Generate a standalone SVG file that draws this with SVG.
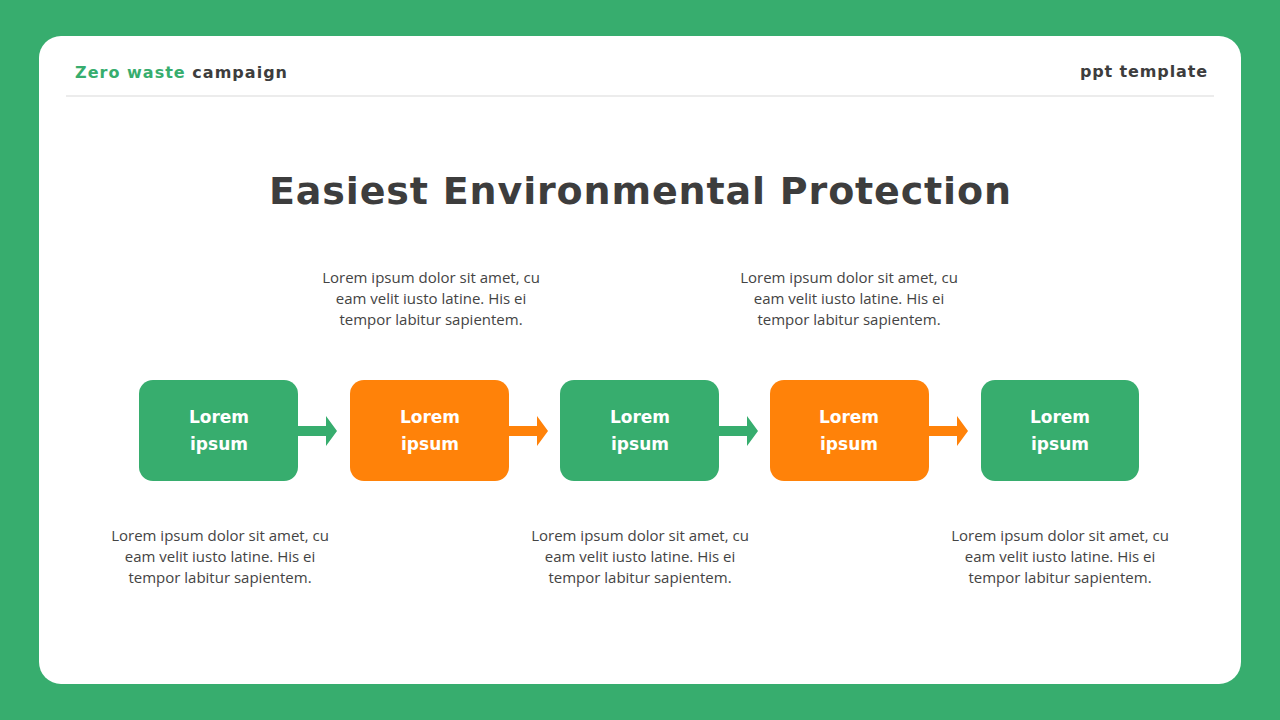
<svg xmlns="http://www.w3.org/2000/svg" width="1280" height="720" viewBox="0 0 1280 720">
<defs><style>
.d{font-family:"Open Sans","Liberation Sans",sans-serif;font-size:15px;fill:#444;text-anchor:middle}
.b{font-family:"DejaVu Sans","Liberation Sans",sans-serif;font-weight:bold;font-size:17px;fill:#fff;text-anchor:middle}
.g{fill:#37AD6E}.o{fill:#FF8209}
</style></defs>
<rect width="1280" height="720" fill="#37AD6E"/>
<rect x="39" y="36" width="1202" height="648" rx="22" fill="#fff"/>
<line x1="66" y1="96" x2="1214" y2="96" stroke="#d9d9d9"/>
<text x="75" y="78" font-family="DejaVu Sans,sans-serif" font-weight="bold" font-size="16" textLength="212"><tspan fill="#37AD6E">Zero waste</tspan><tspan fill="#3d3d3d">  campaign</tspan></text>
<text x="1207" y="77" text-anchor="end" font-family="DejaVu Sans,sans-serif" font-weight="bold" font-size="16" fill="#3d3d3d" textLength="127">ppt template</text>
<text x="640" y="204" text-anchor="middle" font-family="DejaVu Sans,sans-serif" font-weight="bold" font-size="38" fill="#3d3d3d" textLength="742">Easiest Environmental Protection</text>
<g id="connectors">
<path class="g" d="M298 426h28v-10l11 15-11 15v-10h-28z"/>
<path class="o" d="M509 426h28v-10l11 15-11 15v-10h-28z"/>
<path class="g" d="M719 426h28v-10l11 15-11 15v-10h-28z"/>
<path class="o" d="M929 426h28v-10l11 15-11 15v-10h-28z"/>
</g>
<g id="n1"><rect class="g" x="139" y="380" width="159" height="101" rx="14"/><text class="b" x="219" y="423">Lorem</text><text class="b" x="219" y="450">ipsum</text></g>
<g id="n2"><rect class="o" x="350" y="380" width="159" height="101" rx="14"/><text class="b" x="430" y="423">Lorem</text><text class="b" x="430" y="450">ipsum</text></g>
<g id="n3"><rect class="g" x="560" y="380" width="159" height="101" rx="14"/><text class="b" x="640" y="423">Lorem</text><text class="b" x="640" y="450">ipsum</text></g>
<g id="n4"><rect class="o" x="770" y="380" width="159" height="101" rx="14"/><text class="b" x="849" y="423">Lorem</text><text class="b" x="849" y="450">ipsum</text></g>
<g id="n5"><rect class="g" x="981" y="380" width="158" height="101" rx="14"/><text class="b" x="1060" y="423">Lorem</text><text class="b" x="1060" y="450">ipsum</text></g>
<g id="t2"><text class="d" x="431" y="283">Lorem ipsum dolor sit amet, cu</text><text class="d" x="431" y="304">eam velit iusto latine.  His ei</text><text class="d" x="431" y="325">tempor labitur sapientem.</text></g>
<g id="t4"><text class="d" x="849" y="283">Lorem ipsum dolor sit amet, cu</text><text class="d" x="849" y="304">eam velit iusto latine.  His ei</text><text class="d" x="849" y="325">tempor labitur sapientem.</text></g>
<g id="t1"><text class="d" x="220" y="541">Lorem ipsum dolor sit amet, cu</text><text class="d" x="220" y="562">eam velit iusto latine.  His ei</text><text class="d" x="220" y="583">tempor labitur sapientem.</text></g>
<g id="t3"><text class="d" x="640" y="541">Lorem ipsum dolor sit amet, cu</text><text class="d" x="640" y="562">eam velit iusto latine.  His ei</text><text class="d" x="640" y="583">tempor labitur sapientem.</text></g>
<g id="t5"><text class="d" x="1060" y="541">Lorem ipsum dolor sit amet, cu</text><text class="d" x="1060" y="562">eam velit iusto latine.  His ei</text><text class="d" x="1060" y="583">tempor labitur sapientem.</text></g>
</svg>
